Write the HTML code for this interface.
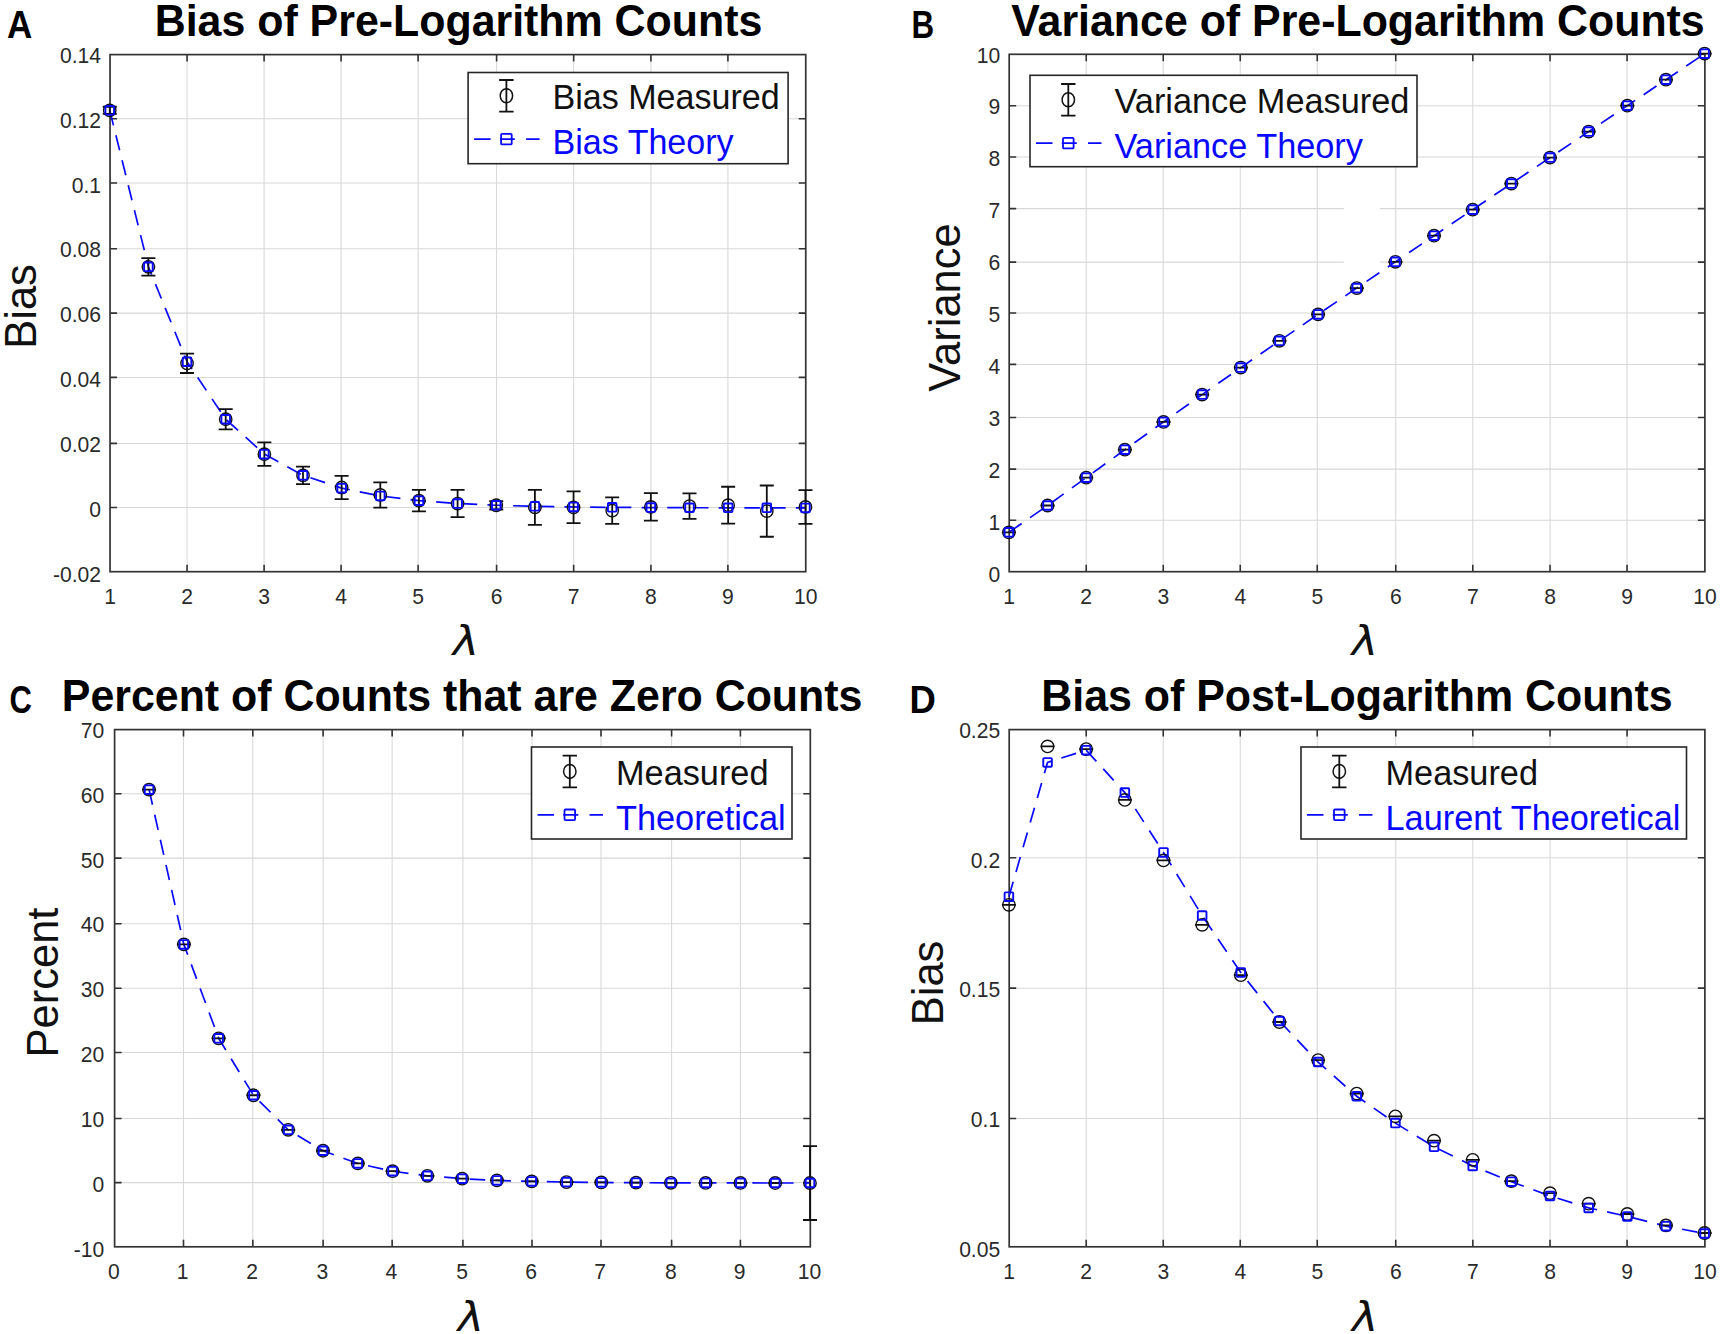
<!DOCTYPE html>
<html lang="en"><head><meta charset="utf-8"><title>Figure</title>
<style>html,body{margin:0;padding:0;background:#fff}svg{display:block}</style></head><body>
<svg width="1720" height="1334" viewBox="0 0 1720 1334" font-family='"Liberation Sans", Arial, Helvetica, sans-serif'>
<rect width="1720" height="1334" fill="#fff"/>
<g>
<rect x="110.05" y="54.60" width="695.70" height="517.10" fill="#fff"/>
<path d="M187.07 54.60V571.70M264.10 54.60V571.70M341.10 54.60V571.70M418.10 54.60V571.70M496.60 54.60V571.70M573.65 54.60V571.70M650.90 54.60V571.70M727.90 54.60V571.70M110.05 507.50H805.75M110.05 443.40H805.75M110.05 377.40H805.75M110.05 313.10H805.75M110.05 248.70H805.75M110.05 183.00H805.75M110.05 118.70H805.75" stroke="#d8d8d8" stroke-width="1.05" fill="none"/>
<path d="M187.07 571.70v-7M187.07 54.60v7M264.10 571.70v-7M264.10 54.60v7M341.10 571.70v-7M341.10 54.60v7M418.10 571.70v-7M418.10 54.60v7M496.60 571.70v-7M496.60 54.60v7M573.65 571.70v-7M573.65 54.60v7M650.90 571.70v-7M650.90 54.60v7M727.90 571.70v-7M727.90 54.60v7M110.05 507.50h7M805.75 507.50h-7M110.05 443.40h7M805.75 443.40h-7M110.05 377.40h7M805.75 377.40h-7M110.05 313.10h7M805.75 313.10h-7M110.05 248.70h7M805.75 248.70h-7M110.05 183.00h7M805.75 183.00h-7M110.05 118.70h7M805.75 118.70h-7" stroke="#333" stroke-width="1.6" fill="none"/>
<rect x="110.05" y="54.60" width="695.70" height="517.10" fill="none" stroke="#333" stroke-width="1.7"/>
<g font-size="21.1" fill="#2a2a2a">
<text transform="translate(110.05 603.90) scale(1 1.04)" text-anchor="middle">1</text>
<text transform="translate(187.07 603.90) scale(1 1.04)" text-anchor="middle">2</text>
<text transform="translate(264.10 603.90) scale(1 1.04)" text-anchor="middle">3</text>
<text transform="translate(341.10 603.90) scale(1 1.04)" text-anchor="middle">4</text>
<text transform="translate(418.10 603.90) scale(1 1.04)" text-anchor="middle">5</text>
<text transform="translate(496.60 603.90) scale(1 1.04)" text-anchor="middle">6</text>
<text transform="translate(573.65 603.90) scale(1 1.04)" text-anchor="middle">7</text>
<text transform="translate(650.90 603.90) scale(1 1.04)" text-anchor="middle">8</text>
<text transform="translate(727.90 603.90) scale(1 1.04)" text-anchor="middle">9</text>
<text transform="translate(805.75 603.90) scale(1 1.04)" text-anchor="middle">10</text>
<text transform="translate(101.05 581.60) scale(1 1.04)" text-anchor="end">-0.02</text>
<text transform="translate(101.05 516.75) scale(1 1.04)" text-anchor="end">0</text>
<text transform="translate(101.05 451.90) scale(1 1.04)" text-anchor="end">0.02</text>
<text transform="translate(101.05 387.05) scale(1 1.04)" text-anchor="end">0.04</text>
<text transform="translate(101.05 322.20) scale(1 1.04)" text-anchor="end">0.06</text>
<text transform="translate(101.05 257.35) scale(1 1.04)" text-anchor="end">0.08</text>
<text transform="translate(101.05 192.50) scale(1 1.04)" text-anchor="end">0.1</text>
<text transform="translate(101.05 127.65) scale(1 1.04)" text-anchor="end">0.12</text>
<text transform="translate(101.05 62.80) scale(1 1.04)" text-anchor="end">0.14</text>
</g>
<polyline points="109.75,110.33 148.40,266.78 187.05,361.68 225.70,419.23 264.35,454.14 303.00,475.31 341.65,488.15 380.30,495.94 418.95,500.67 457.60,503.53 496.25,505.27 534.90,506.33 573.55,506.96 612.20,507.35 650.85,507.59 689.50,507.73 728.15,507.82 766.80,507.87 805.45,507.90" fill="none" stroke="#0808ff" stroke-width="1.7" stroke-dasharray="15.5 10.2" stroke-dashoffset="0"/>
<path d="M109.75 106.77V113.90M102.75 106.77h14M102.75 113.90h14M148.40 258.03V275.54M141.40 258.03h14M141.40 275.54h14M187.05 353.57V373.02M180.05 353.57h14M180.05 373.02h14M225.70 409.18V429.28M218.70 409.18h14M218.70 429.28h14M264.35 442.47V465.81M257.35 442.47h14M257.35 465.81h14M303.00 466.56V484.07M296.00 466.56h14M296.00 484.07h14M341.65 475.83V499.18M334.65 475.83h14M334.65 499.18h14M380.30 482.32V507.62M373.30 482.32h14M373.30 507.62h14M418.95 489.97V511.37M411.95 489.97h14M411.95 511.37h14M457.60 489.91V517.15M450.60 489.91h14M450.60 517.15h14M496.25 501.06V509.49M489.25 501.06h14M489.25 509.49h14M534.90 489.79V524.81M527.90 489.79h14M527.90 524.81h14M573.55 491.40V523.18M566.55 491.40h14M566.55 523.18h14M612.20 497.30V523.89M605.20 497.30h14M605.20 523.89h14M650.85 493.16V520.72M643.85 493.16h14M643.85 520.72h14M689.50 493.30V518.92M682.50 493.30h14M682.50 518.92h14M728.15 486.74V523.70M721.15 486.74h14M721.15 523.70h14M766.80 485.50V536.73M759.80 485.50h14M759.80 536.73h14M805.45 490.07V523.79M798.45 490.07h14M798.45 523.79h14" stroke="#111" stroke-width="1.8" fill="none"/>
<g fill="none" stroke="#111" stroke-width="1.4">
<circle cx="109.75" cy="110.33" r="6.2"/>
<circle cx="148.40" cy="266.78" r="6.2"/>
<circle cx="187.05" cy="363.30" r="6.2"/>
<circle cx="225.70" cy="419.23" r="6.2"/>
<circle cx="264.35" cy="454.14" r="6.2"/>
<circle cx="303.00" cy="475.31" r="6.2"/>
<circle cx="341.65" cy="487.51" r="6.2"/>
<circle cx="380.30" cy="494.97" r="6.2"/>
<circle cx="418.95" cy="500.67" r="6.2"/>
<circle cx="457.60" cy="503.53" r="6.2"/>
<circle cx="496.25" cy="505.27" r="6.2"/>
<circle cx="534.90" cy="507.30" r="6.2"/>
<circle cx="573.55" cy="507.29" r="6.2"/>
<circle cx="612.20" cy="510.59" r="6.2"/>
<circle cx="650.85" cy="506.94" r="6.2"/>
<circle cx="689.50" cy="506.11" r="6.2"/>
<circle cx="728.15" cy="505.22" r="6.2"/>
<circle cx="766.80" cy="511.11" r="6.2"/>
<circle cx="805.45" cy="506.93" r="6.2"/>
</g>
<g fill="none" stroke="#0808ff" stroke-width="1.9">
<rect x="105.45" y="106.03" width="8.6" height="8.6" rx="0.8"/>
<rect x="144.10" y="262.48" width="8.6" height="8.6" rx="0.8"/>
<rect x="182.75" y="357.38" width="8.6" height="8.6" rx="0.8"/>
<rect x="221.40" y="414.93" width="8.6" height="8.6" rx="0.8"/>
<rect x="260.05" y="449.84" width="8.6" height="8.6" rx="0.8"/>
<rect x="298.70" y="471.01" width="8.6" height="8.6" rx="0.8"/>
<rect x="337.35" y="483.85" width="8.6" height="8.6" rx="0.8"/>
<rect x="376.00" y="491.64" width="8.6" height="8.6" rx="0.8"/>
<rect x="414.65" y="496.37" width="8.6" height="8.6" rx="0.8"/>
<rect x="453.30" y="499.23" width="8.6" height="8.6" rx="0.8"/>
<rect x="491.95" y="500.97" width="8.6" height="8.6" rx="0.8"/>
<rect x="530.60" y="502.03" width="8.6" height="8.6" rx="0.8"/>
<rect x="569.25" y="502.66" width="8.6" height="8.6" rx="0.8"/>
<rect x="607.90" y="503.05" width="8.6" height="8.6" rx="0.8"/>
<rect x="646.55" y="503.29" width="8.6" height="8.6" rx="0.8"/>
<rect x="685.20" y="503.43" width="8.6" height="8.6" rx="0.8"/>
<rect x="723.85" y="503.52" width="8.6" height="8.6" rx="0.8"/>
<rect x="762.50" y="503.57" width="8.6" height="8.6" rx="0.8"/>
<rect x="801.15" y="503.60" width="8.6" height="8.6" rx="0.8"/>
</g>
<rect x="468.10" y="72.50" width="320.00" height="91.20" fill="#fff" stroke="#262626" stroke-width="1.6"/>
<path d="M506.40 80.00V111.60M499.20 80.00h14.4M499.20 111.60h14.4" stroke="#111" stroke-width="1.8" fill="none"/>
<ellipse cx="506.40" cy="95.70" rx="6.2" ry="7" fill="none" stroke="#111" stroke-width="1.5"/>
<path d="M474.10 139.10h16.5M499.90 139.10h15M526.10 139.10h13.5" stroke="#0808ff" stroke-width="1.7" fill="none"/>
<rect x="501.10" y="133.80" width="10.6" height="10.6" rx="1" fill="none" stroke="#0808ff" stroke-width="1.8"/>
<text transform="translate(552.60 109.40) scale(1 1.04)" font-size="34.05" fill="#111">Bias Measured</text>
<text transform="translate(552.60 154.30) scale(1 1.04)" font-size="34.05" fill="#0808ff">Bias Theory</text>
<text transform="translate(458.50 36.00) scale(1 1.04)" font-size="42.9" font-weight="bold" text-anchor="middle" fill="#000">Bias of Pre-Logarithm Counts</text>
<text transform="translate(36.00 306.50) rotate(-90) scale(1 1.04)" font-size="43.5" text-anchor="middle" fill="#111">Bias</text>
<text transform="translate(465.80 655.00) scale(1.08 1)" font-size="41" font-style="italic" font-family='"DejaVu Sans", "Liberation Sans", sans-serif' text-anchor="middle" fill="#111">λ</text>
<text transform="translate(7.00 38.00) scale(0.96 1.04)" font-size="36.5" font-weight="bold" fill="#000">A</text>
</g>
<g>
<rect x="1009.20" y="54.30" width="695.70" height="517.40" fill="#fff"/>
<path d="M1086.22 54.30V571.70M1163.25 54.30V571.70M1240.25 54.30V571.70M1317.25 54.30V571.70M1395.75 54.30V571.70M1472.80 54.30V571.70M1550.05 54.30V571.70M1627.05 54.30V571.70M1009.20 520.30H1704.90M1009.20 469.10H1704.90M1009.20 417.50H1704.90M1009.20 364.40H1704.90M1009.20 313.00H1704.90M1009.20 262.10H1704.90M1009.20 208.60H1704.90M1009.20 157.00H1704.90M1009.20 105.80H1704.90" stroke="#d8d8d8" stroke-width="1.05" fill="none"/>
<rect x="1343.8" y="190" width="36.2" height="95" fill="#fff"/>
<path d="M1086.22 571.70v-7M1086.22 54.30v7M1163.25 571.70v-7M1163.25 54.30v7M1240.25 571.70v-7M1240.25 54.30v7M1317.25 571.70v-7M1317.25 54.30v7M1395.75 571.70v-7M1395.75 54.30v7M1472.80 571.70v-7M1472.80 54.30v7M1550.05 571.70v-7M1550.05 54.30v7M1627.05 571.70v-7M1627.05 54.30v7M1009.20 520.30h7M1704.90 520.30h-7M1009.20 469.10h7M1704.90 469.10h-7M1009.20 417.50h7M1704.90 417.50h-7M1009.20 364.40h7M1704.90 364.40h-7M1009.20 313.00h7M1704.90 313.00h-7M1009.20 262.10h7M1704.90 262.10h-7M1009.20 208.60h7M1704.90 208.60h-7M1009.20 157.00h7M1704.90 157.00h-7M1009.20 105.80h7M1704.90 105.80h-7" stroke="#333" stroke-width="1.6" fill="none"/>
<rect x="1009.20" y="54.30" width="695.70" height="517.40" fill="none" stroke="#333" stroke-width="1.7"/>
<g font-size="21.1" fill="#2a2a2a">
<text transform="translate(1009.20 603.90) scale(1 1.04)" text-anchor="middle">1</text>
<text transform="translate(1086.22 603.90) scale(1 1.04)" text-anchor="middle">2</text>
<text transform="translate(1163.25 603.90) scale(1 1.04)" text-anchor="middle">3</text>
<text transform="translate(1240.25 603.90) scale(1 1.04)" text-anchor="middle">4</text>
<text transform="translate(1317.25 603.90) scale(1 1.04)" text-anchor="middle">5</text>
<text transform="translate(1395.75 603.90) scale(1 1.04)" text-anchor="middle">6</text>
<text transform="translate(1472.80 603.90) scale(1 1.04)" text-anchor="middle">7</text>
<text transform="translate(1550.05 603.90) scale(1 1.04)" text-anchor="middle">8</text>
<text transform="translate(1627.05 603.90) scale(1 1.04)" text-anchor="middle">9</text>
<text transform="translate(1704.90 603.90) scale(1 1.04)" text-anchor="middle">10</text>
<text transform="translate(1000.20 581.60) scale(1 1.04)" text-anchor="end">0</text>
<text transform="translate(1000.20 529.69) scale(1 1.04)" text-anchor="end">1</text>
<text transform="translate(1000.20 477.78) scale(1 1.04)" text-anchor="end">2</text>
<text transform="translate(1000.20 425.87) scale(1 1.04)" text-anchor="end">3</text>
<text transform="translate(1000.20 373.96) scale(1 1.04)" text-anchor="end">4</text>
<text transform="translate(1000.20 322.05) scale(1 1.04)" text-anchor="end">5</text>
<text transform="translate(1000.20 270.14) scale(1 1.04)" text-anchor="end">6</text>
<text transform="translate(1000.20 218.23) scale(1 1.04)" text-anchor="end">7</text>
<text transform="translate(1000.20 166.32) scale(1 1.04)" text-anchor="end">8</text>
<text transform="translate(1000.20 114.41) scale(1 1.04)" text-anchor="end">9</text>
<text transform="translate(1000.20 62.50) scale(1 1.04)" text-anchor="end">10</text>
</g>
<polyline points="1008.90,532.28 1047.55,505.52 1086.20,477.67 1124.85,449.69 1163.50,421.97 1202.15,394.60 1240.80,367.59 1279.45,340.87 1318.10,314.38 1356.75,288.05 1395.40,261.84 1434.05,235.71 1472.70,209.65 1511.35,183.62 1550.00,157.61 1588.65,131.62 1627.30,105.65 1665.95,79.68 1704.60,53.72" fill="none" stroke="#0808ff" stroke-width="1.7" stroke-dasharray="15.5 10.2" stroke-dashoffset="0"/>
<path d="M1008.90 532.28V532.28M1001.90 532.28h14M1001.90 532.28h14M1047.55 505.52V505.52M1040.55 505.52h14M1040.55 505.52h14M1086.20 477.67V477.67M1079.20 477.67h14M1079.20 477.67h14M1124.85 449.69V449.69M1117.85 449.69h14M1117.85 449.69h14M1163.50 421.97V421.97M1156.50 421.97h14M1156.50 421.97h14M1202.15 394.60V394.60M1195.15 394.60h14M1195.15 394.60h14M1240.80 367.59V367.59M1233.80 367.59h14M1233.80 367.59h14M1279.45 340.87V340.87M1272.45 340.87h14M1272.45 340.87h14M1318.10 314.38V314.38M1311.10 314.38h14M1311.10 314.38h14M1356.75 288.05V288.05M1349.75 288.05h14M1349.75 288.05h14M1395.40 261.84V261.84M1388.40 261.84h14M1388.40 261.84h14M1434.05 235.71V235.71M1427.05 235.71h14M1427.05 235.71h14M1472.70 209.65V209.65M1465.70 209.65h14M1465.70 209.65h14M1511.35 183.62V183.62M1504.35 183.62h14M1504.35 183.62h14M1550.00 157.61V157.61M1543.00 157.61h14M1543.00 157.61h14M1588.65 131.62V131.62M1581.65 131.62h14M1581.65 131.62h14M1627.30 105.65V105.65M1620.30 105.65h14M1620.30 105.65h14M1665.95 79.68V79.68M1658.95 79.68h14M1658.95 79.68h14M1704.60 53.72V53.72M1697.60 53.72h14M1697.60 53.72h14" stroke="#111" stroke-width="1.8" fill="none"/>
<g fill="none" stroke="#111" stroke-width="1.4">
<circle cx="1008.90" cy="532.28" r="6.2"/>
<circle cx="1047.55" cy="505.52" r="6.2"/>
<circle cx="1086.20" cy="477.67" r="6.2"/>
<circle cx="1124.85" cy="449.69" r="6.2"/>
<circle cx="1163.50" cy="421.97" r="6.2"/>
<circle cx="1202.15" cy="394.60" r="6.2"/>
<circle cx="1240.80" cy="367.59" r="6.2"/>
<circle cx="1279.45" cy="340.87" r="6.2"/>
<circle cx="1318.10" cy="314.38" r="6.2"/>
<circle cx="1356.75" cy="288.05" r="6.2"/>
<circle cx="1395.40" cy="261.84" r="6.2"/>
<circle cx="1434.05" cy="235.71" r="6.2"/>
<circle cx="1472.70" cy="209.65" r="6.2"/>
<circle cx="1511.35" cy="183.62" r="6.2"/>
<circle cx="1550.00" cy="157.61" r="6.2"/>
<circle cx="1588.65" cy="131.62" r="6.2"/>
<circle cx="1627.30" cy="105.65" r="6.2"/>
<circle cx="1665.95" cy="79.68" r="6.2"/>
<circle cx="1704.60" cy="53.72" r="6.2"/>
</g>
<g fill="none" stroke="#0808ff" stroke-width="1.9">
<rect x="1004.60" y="527.98" width="8.6" height="8.6" rx="0.8"/>
<rect x="1043.25" y="501.22" width="8.6" height="8.6" rx="0.8"/>
<rect x="1081.90" y="473.37" width="8.6" height="8.6" rx="0.8"/>
<rect x="1120.55" y="445.39" width="8.6" height="8.6" rx="0.8"/>
<rect x="1159.20" y="417.67" width="8.6" height="8.6" rx="0.8"/>
<rect x="1197.85" y="390.30" width="8.6" height="8.6" rx="0.8"/>
<rect x="1236.50" y="363.29" width="8.6" height="8.6" rx="0.8"/>
<rect x="1275.15" y="336.57" width="8.6" height="8.6" rx="0.8"/>
<rect x="1313.80" y="310.08" width="8.6" height="8.6" rx="0.8"/>
<rect x="1352.45" y="283.75" width="8.6" height="8.6" rx="0.8"/>
<rect x="1391.10" y="257.54" width="8.6" height="8.6" rx="0.8"/>
<rect x="1429.75" y="231.41" width="8.6" height="8.6" rx="0.8"/>
<rect x="1468.40" y="205.35" width="8.6" height="8.6" rx="0.8"/>
<rect x="1507.05" y="179.32" width="8.6" height="8.6" rx="0.8"/>
<rect x="1545.70" y="153.31" width="8.6" height="8.6" rx="0.8"/>
<rect x="1584.35" y="127.32" width="8.6" height="8.6" rx="0.8"/>
<rect x="1623.00" y="101.35" width="8.6" height="8.6" rx="0.8"/>
<rect x="1661.65" y="75.38" width="8.6" height="8.6" rx="0.8"/>
<rect x="1700.30" y="49.42" width="8.6" height="8.6" rx="0.8"/>
</g>
<rect x="1030.00" y="75.30" width="387.00" height="91.40" fill="#fff" stroke="#262626" stroke-width="1.6"/>
<path d="M1068.30 84.00V115.60M1061.10 84.00h14.4M1061.10 115.60h14.4" stroke="#111" stroke-width="1.8" fill="none"/>
<ellipse cx="1068.30" cy="99.70" rx="6.2" ry="7" fill="none" stroke="#111" stroke-width="1.5"/>
<path d="M1036.00 143.10h16.5M1061.80 143.10h15M1088.00 143.10h13.5" stroke="#0808ff" stroke-width="1.7" fill="none"/>
<rect x="1063.00" y="137.80" width="10.6" height="10.6" rx="1" fill="none" stroke="#0808ff" stroke-width="1.8"/>
<text transform="translate(1114.50 113.40) scale(1 1.04)" font-size="34.3" fill="#111">Variance Measured</text>
<text transform="translate(1114.50 158.30) scale(1 1.04)" font-size="34.3" fill="#0808ff">Variance Theory</text>
<text transform="translate(1358.00 36.10) scale(1 1.04)" font-size="42.9" font-weight="bold" text-anchor="middle" fill="#000">Variance of Pre-Logarithm Counts</text>
<text transform="translate(960.30 307.50) rotate(-90) scale(1 1.04)" font-size="43.5" text-anchor="middle" fill="#111">Variance</text>
<text transform="translate(1364.80 655.00) scale(1.08 1)" font-size="41" font-style="italic" font-family='"DejaVu Sans", "Liberation Sans", sans-serif' text-anchor="middle" fill="#111">λ</text>
<text transform="translate(911.50 37.80) scale(0.86 1.04)" font-size="36.5" font-weight="bold" fill="#000">B</text>
</g>
<g>
<rect x="114.60" y="729.60" width="695.70" height="517.20" fill="#fff"/>
<path d="M183.50 729.60V1246.80M252.80 729.60V1246.80M323.10 729.60V1246.80M392.15 729.60V1246.80M462.90 729.60V1246.80M532.00 729.60V1246.80M601.00 729.60V1246.80M671.60 729.60V1246.80M740.40 729.60V1246.80M114.60 1182.60H810.30M114.60 1118.50H810.30M114.60 1052.50H810.30M114.60 988.20H810.30M114.60 923.80H810.30M114.60 858.10H810.30M114.60 793.80H810.30" stroke="#d8d8d8" stroke-width="1.05" fill="none"/>
<path d="M183.50 1246.80v-7M183.50 729.60v7M252.80 1246.80v-7M252.80 729.60v7M323.10 1246.80v-7M323.10 729.60v7M392.15 1246.80v-7M392.15 729.60v7M462.90 1246.80v-7M462.90 729.60v7M532.00 1246.80v-7M532.00 729.60v7M601.00 1246.80v-7M601.00 729.60v7M671.60 1246.80v-7M671.60 729.60v7M740.40 1246.80v-7M740.40 729.60v7M114.60 1182.60h7M810.30 1182.60h-7M114.60 1118.50h7M810.30 1118.50h-7M114.60 1052.50h7M810.30 1052.50h-7M114.60 988.20h7M810.30 988.20h-7M114.60 923.80h7M810.30 923.80h-7M114.60 858.10h7M810.30 858.10h-7M114.60 793.80h7M810.30 793.80h-7" stroke="#333" stroke-width="1.6" fill="none"/>
<rect x="114.60" y="729.60" width="695.70" height="517.20" fill="none" stroke="#333" stroke-width="1.7"/>
<g font-size="21.1" fill="#2a2a2a">
<text transform="translate(113.80 1279.00) scale(1 1.04)" text-anchor="middle">0</text>
<text transform="translate(182.70 1279.00) scale(1 1.04)" text-anchor="middle">1</text>
<text transform="translate(252.00 1279.00) scale(1 1.04)" text-anchor="middle">2</text>
<text transform="translate(322.30 1279.00) scale(1 1.04)" text-anchor="middle">3</text>
<text transform="translate(391.35 1279.00) scale(1 1.04)" text-anchor="middle">4</text>
<text transform="translate(462.10 1279.00) scale(1 1.04)" text-anchor="middle">5</text>
<text transform="translate(531.20 1279.00) scale(1 1.04)" text-anchor="middle">6</text>
<text transform="translate(600.20 1279.00) scale(1 1.04)" text-anchor="middle">7</text>
<text transform="translate(670.80 1279.00) scale(1 1.04)" text-anchor="middle">8</text>
<text transform="translate(739.60 1279.00) scale(1 1.04)" text-anchor="middle">9</text>
<text transform="translate(809.50 1279.00) scale(1 1.04)" text-anchor="middle">10</text>
<text transform="translate(104.30 1256.70) scale(1 1.04)" text-anchor="end">-10</text>
<text transform="translate(104.30 1191.84) scale(1 1.04)" text-anchor="end">0</text>
<text transform="translate(104.30 1126.97) scale(1 1.04)" text-anchor="end">10</text>
<text transform="translate(104.30 1062.11) scale(1 1.04)" text-anchor="end">20</text>
<text transform="translate(104.30 997.25) scale(1 1.04)" text-anchor="end">30</text>
<text transform="translate(104.30 932.39) scale(1 1.04)" text-anchor="end">40</text>
<text transform="translate(104.30 867.52) scale(1 1.04)" text-anchor="end">50</text>
<text transform="translate(104.30 802.66) scale(1 1.04)" text-anchor="end">60</text>
<text transform="translate(104.30 737.80) scale(1 1.04)" text-anchor="end">70</text>
</g>
<polyline points="149.08,789.63 183.87,944.42 218.65,1038.31 253.44,1095.26 288.22,1129.80 323.01,1150.74 357.79,1163.45 392.58,1171.16 427.36,1175.83 462.15,1178.67 496.94,1180.39 531.72,1181.43 566.50,1182.06 601.29,1182.45 636.08,1182.68 670.86,1182.82 705.64,1182.91 740.43,1182.96 775.21,1182.99 810.00,1183.01" fill="none" stroke="#0808ff" stroke-width="1.7" stroke-dasharray="15.5 10.2" stroke-dashoffset="0"/>
<path d="M149.08 789.63V789.63M142.08 789.63h14M142.08 789.63h14M183.87 944.42V944.42M176.87 944.42h14M176.87 944.42h14M218.65 1038.31V1038.31M211.65 1038.31h14M211.65 1038.31h14M253.44 1095.26V1095.26M246.44 1095.26h14M246.44 1095.26h14M288.22 1129.80V1129.80M281.22 1129.80h14M281.22 1129.80h14M323.01 1150.74V1150.74M316.01 1150.74h14M316.01 1150.74h14M357.79 1163.45V1163.45M350.79 1163.45h14M350.79 1163.45h14M392.58 1171.16V1171.16M385.58 1171.16h14M385.58 1171.16h14M427.36 1175.83V1175.83M420.36 1175.83h14M420.36 1175.83h14M462.15 1178.67V1178.67M455.15 1178.67h14M455.15 1178.67h14M496.94 1180.39V1180.39M489.94 1180.39h14M489.94 1180.39h14M531.72 1181.43V1181.43M524.72 1181.43h14M524.72 1181.43h14M566.50 1182.06V1182.06M559.50 1182.06h14M559.50 1182.06h14M601.29 1182.45V1182.45M594.29 1182.45h14M594.29 1182.45h14M636.08 1182.68V1182.68M629.08 1182.68h14M629.08 1182.68h14M670.86 1182.82V1182.82M663.86 1182.82h14M663.86 1182.82h14M705.64 1182.91V1182.91M698.64 1182.91h14M698.64 1182.91h14M740.43 1182.96V1182.96M733.43 1182.96h14M733.43 1182.96h14M775.21 1182.99V1182.99M768.21 1182.99h14M768.21 1182.99h14M810.00 1146.04V1219.98M803.00 1146.04h14M803.00 1219.98h14" stroke="#111" stroke-width="1.8" fill="none"/>
<g fill="none" stroke="#111" stroke-width="1.4">
<circle cx="149.08" cy="789.63" r="6.2"/>
<circle cx="183.87" cy="944.42" r="6.2"/>
<circle cx="218.65" cy="1038.31" r="6.2"/>
<circle cx="253.44" cy="1095.26" r="6.2"/>
<circle cx="288.22" cy="1129.80" r="6.2"/>
<circle cx="323.01" cy="1150.74" r="6.2"/>
<circle cx="357.79" cy="1163.45" r="6.2"/>
<circle cx="392.58" cy="1171.16" r="6.2"/>
<circle cx="427.36" cy="1175.83" r="6.2"/>
<circle cx="462.15" cy="1178.67" r="6.2"/>
<circle cx="496.94" cy="1180.39" r="6.2"/>
<circle cx="531.72" cy="1181.43" r="6.2"/>
<circle cx="566.50" cy="1182.06" r="6.2"/>
<circle cx="601.29" cy="1182.45" r="6.2"/>
<circle cx="636.08" cy="1182.68" r="6.2"/>
<circle cx="670.86" cy="1182.82" r="6.2"/>
<circle cx="705.64" cy="1182.91" r="6.2"/>
<circle cx="740.43" cy="1182.96" r="6.2"/>
<circle cx="775.21" cy="1182.99" r="6.2"/>
<circle cx="810.00" cy="1183.01" r="6.2"/>
</g>
<g fill="none" stroke="#0808ff" stroke-width="1.9">
<rect x="144.78" y="785.33" width="8.6" height="8.6" rx="0.8"/>
<rect x="179.57" y="940.12" width="8.6" height="8.6" rx="0.8"/>
<rect x="214.35" y="1034.01" width="8.6" height="8.6" rx="0.8"/>
<rect x="249.14" y="1090.96" width="8.6" height="8.6" rx="0.8"/>
<rect x="283.92" y="1125.50" width="8.6" height="8.6" rx="0.8"/>
<rect x="318.71" y="1146.44" width="8.6" height="8.6" rx="0.8"/>
<rect x="353.49" y="1159.15" width="8.6" height="8.6" rx="0.8"/>
<rect x="388.28" y="1166.86" width="8.6" height="8.6" rx="0.8"/>
<rect x="423.06" y="1171.53" width="8.6" height="8.6" rx="0.8"/>
<rect x="457.85" y="1174.37" width="8.6" height="8.6" rx="0.8"/>
<rect x="492.63" y="1176.09" width="8.6" height="8.6" rx="0.8"/>
<rect x="527.42" y="1177.13" width="8.6" height="8.6" rx="0.8"/>
<rect x="562.21" y="1177.76" width="8.6" height="8.6" rx="0.8"/>
<rect x="596.99" y="1178.15" width="8.6" height="8.6" rx="0.8"/>
<rect x="631.78" y="1178.38" width="8.6" height="8.6" rx="0.8"/>
<rect x="666.56" y="1178.52" width="8.6" height="8.6" rx="0.8"/>
<rect x="701.35" y="1178.61" width="8.6" height="8.6" rx="0.8"/>
<rect x="736.13" y="1178.66" width="8.6" height="8.6" rx="0.8"/>
<rect x="770.91" y="1178.69" width="8.6" height="8.6" rx="0.8"/>
<rect x="805.70" y="1178.71" width="8.6" height="8.6" rx="0.8"/>
</g>
<rect x="531.50" y="747.00" width="260.50" height="92.00" fill="#fff" stroke="#262626" stroke-width="1.6"/>
<path d="M569.80 755.70V787.30M562.60 755.70h14.4M562.60 787.30h14.4" stroke="#111" stroke-width="1.8" fill="none"/>
<ellipse cx="569.80" cy="771.40" rx="6.2" ry="7" fill="none" stroke="#111" stroke-width="1.5"/>
<path d="M537.50 814.80h16.5M563.30 814.80h15M589.50 814.80h13.5" stroke="#0808ff" stroke-width="1.7" fill="none"/>
<rect x="564.50" y="809.50" width="10.6" height="10.6" rx="1" fill="none" stroke="#0808ff" stroke-width="1.8"/>
<text transform="translate(616.00 785.10) scale(1 1.04)" font-size="34.3" fill="#111">Measured</text>
<text transform="translate(616.00 830.00) scale(1 1.04)" font-size="34.3" fill="#0808ff">Theoretical</text>
<text transform="translate(462.10 711.00) scale(1 1.04)" font-size="42.9" font-weight="bold" text-anchor="middle" fill="#000">Percent of Counts that are Zero Counts</text>
<text transform="translate(57.80 982.50) rotate(-90) scale(1 1.04)" font-size="43.5" text-anchor="middle" fill="#111">Percent</text>
<text transform="translate(470.80 1330.50) scale(1.08 1)" font-size="41" font-style="italic" font-family='"DejaVu Sans", "Liberation Sans", sans-serif' text-anchor="middle" fill="#111">λ</text>
<text transform="translate(9.50 713.00) scale(0.85 1.04)" font-size="36.5" font-weight="bold" fill="#000">C</text>
</g>
<g>
<rect x="1009.20" y="729.60" width="695.70" height="517.20" fill="#fff"/>
<path d="M1086.22 729.60V1246.80M1163.25 729.60V1246.80M1240.25 729.60V1246.80M1317.25 729.60V1246.80M1395.75 729.60V1246.80M1472.80 729.60V1246.80M1550.05 729.60V1246.80M1627.05 729.60V1246.80M1009.20 1118.50H1704.90M1009.20 988.15H1704.90M1009.20 857.80H1704.90" stroke="#d8d8d8" stroke-width="1.05" fill="none"/>
<path d="M1086.22 1246.80v-7M1086.22 729.60v7M1163.25 1246.80v-7M1163.25 729.60v7M1240.25 1246.80v-7M1240.25 729.60v7M1317.25 1246.80v-7M1317.25 729.60v7M1395.75 1246.80v-7M1395.75 729.60v7M1472.80 1246.80v-7M1472.80 729.60v7M1550.05 1246.80v-7M1550.05 729.60v7M1627.05 1246.80v-7M1627.05 729.60v7M1009.20 1118.50h7M1704.90 1118.50h-7M1009.20 988.15h7M1704.90 988.15h-7M1009.20 857.80h7M1704.90 857.80h-7" stroke="#333" stroke-width="1.6" fill="none"/>
<rect x="1009.20" y="729.60" width="695.70" height="517.20" fill="none" stroke="#333" stroke-width="1.7"/>
<g font-size="21.1" fill="#2a2a2a">
<text transform="translate(1009.20 1279.00) scale(1 1.04)" text-anchor="middle">1</text>
<text transform="translate(1086.22 1279.00) scale(1 1.04)" text-anchor="middle">2</text>
<text transform="translate(1163.25 1279.00) scale(1 1.04)" text-anchor="middle">3</text>
<text transform="translate(1240.25 1279.00) scale(1 1.04)" text-anchor="middle">4</text>
<text transform="translate(1317.25 1279.00) scale(1 1.04)" text-anchor="middle">5</text>
<text transform="translate(1395.75 1279.00) scale(1 1.04)" text-anchor="middle">6</text>
<text transform="translate(1472.80 1279.00) scale(1 1.04)" text-anchor="middle">7</text>
<text transform="translate(1550.05 1279.00) scale(1 1.04)" text-anchor="middle">8</text>
<text transform="translate(1627.05 1279.00) scale(1 1.04)" text-anchor="middle">9</text>
<text transform="translate(1704.90 1279.00) scale(1 1.04)" text-anchor="middle">10</text>
<text transform="translate(1000.20 1256.70) scale(1 1.04)" text-anchor="end">0.05</text>
<text transform="translate(1000.20 1126.97) scale(1 1.04)" text-anchor="end">0.1</text>
<text transform="translate(1000.20 997.25) scale(1 1.04)" text-anchor="end">0.15</text>
<text transform="translate(1000.20 867.52) scale(1 1.04)" text-anchor="end">0.2</text>
<text transform="translate(1000.20 737.80) scale(1 1.04)" text-anchor="end">0.25</text>
</g>
<polyline points="1008.90,896.70 1047.55,762.40 1086.20,750.20 1124.85,792.60 1163.50,852.40 1202.15,915.60 1240.80,972.60 1279.45,1021.00 1318.10,1062.10 1356.75,1096.30 1395.40,1123.10 1434.05,1146.80 1472.70,1165.90 1511.35,1181.70 1550.00,1195.90 1588.65,1207.90 1627.30,1216.40 1665.95,1226.20 1704.60,1233.50" fill="none" stroke="#0808ff" stroke-width="1.7" stroke-dasharray="15.5 10.2" stroke-dashoffset="0"/>
<path d="M1008.90 904.85V904.85M1001.90 904.85h14M1001.90 904.85h14M1047.55 746.40V746.40M1040.55 746.40h14M1040.55 746.40h14M1086.20 749.10V749.10M1079.20 749.10h14M1079.20 749.10h14M1124.85 799.90V799.90M1117.85 799.90h14M1117.85 799.90h14M1163.50 860.40V860.40M1156.50 860.40h14M1156.50 860.40h14M1202.15 924.80V924.80M1195.15 924.80h14M1195.15 924.80h14M1240.80 975.20V975.20M1233.80 975.20h14M1233.80 975.20h14M1279.45 1022.00V1022.00M1272.45 1022.00h14M1272.45 1022.00h14M1318.10 1060.10V1060.10M1311.10 1060.10h14M1311.10 1060.10h14M1356.75 1093.60V1093.60M1349.75 1093.60h14M1349.75 1093.60h14M1395.40 1116.30V1116.30M1388.40 1116.30h14M1388.40 1116.30h14M1434.05 1140.70V1140.70M1427.05 1140.70h14M1427.05 1140.70h14M1472.70 1159.80V1159.80M1465.70 1159.80h14M1465.70 1159.80h14M1511.35 1181.20V1181.20M1504.35 1181.20h14M1504.35 1181.20h14M1550.00 1193.20V1193.20M1543.00 1193.20h14M1543.00 1193.20h14M1588.65 1203.70V1203.70M1581.65 1203.70h14M1581.65 1203.70h14M1627.30 1214.00V1214.00M1620.30 1214.00h14M1620.30 1214.00h14M1665.95 1225.40V1225.40M1658.95 1225.40h14M1658.95 1225.40h14M1704.60 1233.00V1233.00M1697.60 1233.00h14M1697.60 1233.00h14" stroke="#111" stroke-width="1.8" fill="none"/>
<g fill="none" stroke="#111" stroke-width="1.4">
<circle cx="1008.90" cy="904.85" r="6.2"/>
<circle cx="1047.55" cy="746.40" r="6.2"/>
<circle cx="1086.20" cy="749.10" r="6.2"/>
<circle cx="1124.85" cy="799.90" r="6.2"/>
<circle cx="1163.50" cy="860.40" r="6.2"/>
<circle cx="1202.15" cy="924.80" r="6.2"/>
<circle cx="1240.80" cy="975.20" r="6.2"/>
<circle cx="1279.45" cy="1022.00" r="6.2"/>
<circle cx="1318.10" cy="1060.10" r="6.2"/>
<circle cx="1356.75" cy="1093.60" r="6.2"/>
<circle cx="1395.40" cy="1116.30" r="6.2"/>
<circle cx="1434.05" cy="1140.70" r="6.2"/>
<circle cx="1472.70" cy="1159.80" r="6.2"/>
<circle cx="1511.35" cy="1181.20" r="6.2"/>
<circle cx="1550.00" cy="1193.20" r="6.2"/>
<circle cx="1588.65" cy="1203.70" r="6.2"/>
<circle cx="1627.30" cy="1214.00" r="6.2"/>
<circle cx="1665.95" cy="1225.40" r="6.2"/>
<circle cx="1704.60" cy="1233.00" r="6.2"/>
</g>
<g fill="none" stroke="#0808ff" stroke-width="1.9">
<rect x="1004.60" y="892.40" width="8.6" height="8.6" rx="0.8"/>
<rect x="1043.25" y="758.10" width="8.6" height="8.6" rx="0.8"/>
<rect x="1081.90" y="745.90" width="8.6" height="8.6" rx="0.8"/>
<rect x="1120.55" y="788.30" width="8.6" height="8.6" rx="0.8"/>
<rect x="1159.20" y="848.10" width="8.6" height="8.6" rx="0.8"/>
<rect x="1197.85" y="911.30" width="8.6" height="8.6" rx="0.8"/>
<rect x="1236.50" y="968.30" width="8.6" height="8.6" rx="0.8"/>
<rect x="1275.15" y="1016.70" width="8.6" height="8.6" rx="0.8"/>
<rect x="1313.80" y="1057.80" width="8.6" height="8.6" rx="0.8"/>
<rect x="1352.45" y="1092.00" width="8.6" height="8.6" rx="0.8"/>
<rect x="1391.10" y="1118.80" width="8.6" height="8.6" rx="0.8"/>
<rect x="1429.75" y="1142.50" width="8.6" height="8.6" rx="0.8"/>
<rect x="1468.40" y="1161.60" width="8.6" height="8.6" rx="0.8"/>
<rect x="1507.05" y="1177.40" width="8.6" height="8.6" rx="0.8"/>
<rect x="1545.70" y="1191.60" width="8.6" height="8.6" rx="0.8"/>
<rect x="1584.35" y="1203.60" width="8.6" height="8.6" rx="0.8"/>
<rect x="1623.00" y="1212.10" width="8.6" height="8.6" rx="0.8"/>
<rect x="1661.65" y="1221.90" width="8.6" height="8.6" rx="0.8"/>
<rect x="1700.30" y="1229.20" width="8.6" height="8.6" rx="0.8"/>
</g>
<rect x="1301.00" y="747.00" width="385.50" height="92.00" fill="#fff" stroke="#262626" stroke-width="1.6"/>
<path d="M1339.30 755.70V787.30M1332.10 755.70h14.4M1332.10 787.30h14.4" stroke="#111" stroke-width="1.8" fill="none"/>
<ellipse cx="1339.30" cy="771.40" rx="6.2" ry="7" fill="none" stroke="#111" stroke-width="1.5"/>
<path d="M1307.00 814.80h16.5M1332.80 814.80h15M1359.00 814.80h13.5" stroke="#0808ff" stroke-width="1.7" fill="none"/>
<rect x="1334.00" y="809.50" width="10.6" height="10.6" rx="1" fill="none" stroke="#0808ff" stroke-width="1.8"/>
<text transform="translate(1385.50 785.10) scale(1 1.04)" font-size="34.3" fill="#111">Measured</text>
<text transform="translate(1385.50 830.00) scale(1 1.04)" font-size="34.3" fill="#0808ff">Laurent Theoretical</text>
<text transform="translate(1357.00 711.00) scale(1 1.04)" font-size="42.9" font-weight="bold" text-anchor="middle" fill="#000">Bias of Post-Logarithm Counts</text>
<text transform="translate(942.60 983.00) rotate(-90) scale(1 1.04)" font-size="43.5" text-anchor="middle" fill="#111">Bias</text>
<text transform="translate(1365.10 1330.50) scale(1.08 1)" font-size="41" font-style="italic" font-family='"DejaVu Sans", "Liberation Sans", sans-serif' text-anchor="middle" fill="#111">λ</text>
<text transform="translate(909.50 713.00) scale(1.0 1.04)" font-size="36.5" font-weight="bold" fill="#000">D</text>
</g>
</svg></body></html>
